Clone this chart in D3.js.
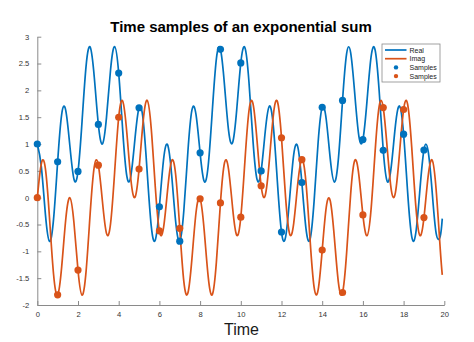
<!DOCTYPE html>
<html>
<head>
<meta charset="utf-8">
<script src="https://cdn.jsdelivr.net/npm/d3@7"></script>
<style>
  html, body { margin: 0; padding: 0; background: #fff; }
  svg { display: block; }
  text { font-family: "Liberation Sans", Arial, Helvetica, sans-serif; }
</style>
</head>
<body>
<div id="chart"></div>
<script>
// ---- data ----
const time = [0,0.2,0.4,0.6,0.8,1,1.2,1.4,1.6,1.8,2,2.2,2.4,2.6,2.8,3,3.2,3.4,3.6,3.8,
  4,4.2,4.4,4.6,4.8,5,5.2,5.4,5.6,5.8,6,6.2,6.4,6.6,6.8,7,7.2,7.4,7.6,7.8,
  8,8.2,8.4,8.6,8.8,9,9.2,9.4,9.6,9.8,10,10.2,10.4,10.6,10.8,11,11.2,11.4,11.6,11.8,
  12,12.2,12.4,12.6,12.8,13,13.2,13.4,13.6,13.8,14,14.2,14.4,14.6,14.8,15,15.2,15.4,15.6,15.8,
  16,16.2,16.4,16.6,16.8,17,17.2,17.4,17.6,17.8,18,18.2,18.4,18.6,18.8,19,19.2,19.4,19.6,19.8,19.9];

const realPart = [1.000,0.571,-0.315,-0.814,-0.396,0.669,1.559,1.623,0.967,0.348,
  0.490,1.427,2.466,2.804,2.244,1.365,1.003,1.497,2.384,2.816,
  2.322,1.236,0.400,0.412,1.100,1.676,1.456,0.477,-0.530,-0.788,
  -0.170,0.696,0.987,0.432,-0.449,-0.811,-0.243,0.856,1.635,1.547,
  0.836,0.306,0.604,1.620,2.588,2.765,2.094,1.249,1.030,1.642,
  2.511,2.798,2.160,1.054,0.336,0.498,1.229,1.705,1.330,0.284,
  -0.640,-0.736,-0.016,0.803,0.947,0.282,-0.567,-0.779,-0.073,1.033,
  1.685,1.452,0.709,0.291,0.741,1.812,2.686,2.700,1.938,1.152,
  1.082,1.795,2.619,2.753,1.983,0.883,0.300,0.601,1.351,1.707,
  1.184,0.094,-0.725,-0.658,0.140,0.889,0.882,0.127,-0.666,-0.719,-0.390];

const imagPart = [0.000,0.638,0.535,-0.379,-1.432,-1.810,-1.280,-0.397,-0.001,-0.463,
  -1.350,-1.816,-1.360,-0.283,0.580,0.606,-0.067,-0.665,-0.484,0.475,
  1.499,1.797,1.207,0.334,0.008,0.533,1.417,1.814,1.283,0.190,
  -0.619,-0.568,0.133,0.686,0.427,-0.572,-1.560,-1.778,-1.132,-0.276,
  -0.020,-0.605,-1.481,-1.805,-1.202,-0.098,0.650,0.525,-0.198,-0.700,
  -0.364,0.668,1.615,1.751,1.055,0.222,0.041,0.680,1.540,1.790,
  1.117,0.010,-0.675,-0.478,0.261,0.708,0.295,-0.764,-1.664,-1.719,
  -0.977,-0.174,-0.067,-0.756,-1.594,-1.767,-1.029,0.076,0.694,0.426,
  -0.322,-0.709,-0.222,0.859,1.706,1.680,0.899,0.131,0.099,0.834,
  1.643,1.737,0.937,-0.157,-0.705,-0.371,0.380,0.703,0.144,-0.953,-1.438];

const sampleTime = [0,1,2,3,4,5,6,7,8,9,10,11,12,13,14,15,16,17,18,19];
const sampleReal = [1.000,0.669,0.490,1.365,2.322,1.676,-0.170,-0.811,0.836,2.765,
  2.511,0.498,-0.640,0.282,1.685,1.812,1.082,0.883,1.184,0.889];
const sampleImag = [0.000,-1.810,-1.350,0.606,1.499,0.533,-0.619,-0.572,-0.020,-0.098,
  -0.364,0.222,1.117,0.708,-0.977,-1.767,-0.322,1.680,1.643,-0.371];

const xTicks = [0,2,4,6,8,10,12,14,16,18,20];
const yTicks = [-2,-1.5,-1,-0.5,0,0.5,1,1.5,2,2.5,3];
const yTickLabels = ["-2","-1.5","-1","-0.5","0","0.5","1","1.5","2","2.5","3"];
const legendLabels = ["Real","Imag","Samples","Samples"];
const titleText = "Time samples of an exponential sum";
const xLabelText = "Time";

// ---- drawing ----
const W = 474, H = 342;
const blue = "#0072BD", orange = "#D95319";
const axisColor = "#8a8a8a", labelColor = "#333333";

const svg = d3.select("#chart").append("svg").attr("width", W).attr("height", H);

const x = d3.scaleLinear().domain([0, 20]).range([37.3, 444.3]);
const y = d3.scaleLinear().domain([-2, 3]).range([305, 36.7]);

// axes (MATLAB style: box off, ticks inward)
const xAxis = d3.axisBottom(x).tickValues(xTicks).tickSizeInner(-4).tickSizeOuter(0)
  .tickPadding(7).tickFormat(d3.format("d"));
const yAxis = d3.axisLeft(y).tickValues(yTicks).tickSizeInner(-4).tickSizeOuter(0)
  .tickPadding(8).tickFormat((d, i) => yTickLabels[i]);

const gx = svg.append("g").attr("transform", `translate(0,${y(-2)})`).call(xAxis);
const gy = svg.append("g").attr("transform", `translate(${x(0)},0)`).call(yAxis);
[gx, gy].forEach(g => {
  g.select(".domain").attr("stroke", axisColor).attr("stroke-width", 1);
  g.selectAll(".tick line").attr("stroke", axisColor).attr("stroke-width", 1);
  g.selectAll(".tick text").attr("fill", labelColor).attr("font-size", 7.6)
    .attr("font-family", "'Liberation Sans', Arial, Helvetica, sans-serif");
});

const line = d3.line().curve(d3.curveNatural);

svg.append("path")
  .attr("d", line(time.map((t, i) => [x(t), y(realPart[i])])))
  .attr("fill", "none").attr("stroke", blue).attr("stroke-width", 1.7);
svg.append("path")
  .attr("d", line(time.map((t, i) => [x(t), y(imagPart[i])])))
  .attr("fill", "none").attr("stroke", orange).attr("stroke-width", 1.7);

svg.append("g").selectAll("circle").data(sampleTime).join("circle")
  .attr("cx", d => x(d)).attr("cy", (d, i) => y(sampleReal[i])).attr("r", 3.6)
  .attr("fill", blue);
svg.append("g").selectAll("circle").data(sampleTime).join("circle")
  .attr("cx", d => x(d)).attr("cy", (d, i) => y(sampleImag[i])).attr("r", 3.6)
  .attr("fill", orange);

// title and x label
svg.append("text").attr("x", 241).attr("y", 31.5).attr("text-anchor", "middle")
  .attr("font-size", 15).attr("font-weight", "bold").attr("fill", "#000").text(titleText);
svg.append("text").attr("x", 241.5).attr("y", 334.5).attr("text-anchor", "middle")
  .attr("font-size", 16).attr("fill", "#1a1a1a").text(xLabelText);

// legend
const lg = svg.append("g").attr("transform", "translate(382,44)");
lg.append("rect").attr("x", 0).attr("y", 0).attr("width", 58).attr("height", 38)
  .attr("fill", "#fff").attr("stroke", "#8a8a8a").attr("stroke-width", 0.8);
const legendColors = [blue, orange, blue, orange];
legendLabels.forEach((lab, i) => {
  const cy = 6 + i * 8.7;
  if (i < 2) {
    lg.append("line").attr("x1", 3).attr("x2", 24.5).attr("y1", cy).attr("y2", cy)
      .attr("stroke", legendColors[i]).attr("stroke-width", 1.7);
  } else {
    lg.append("circle").attr("cx", 14).attr("cy", cy).attr("r", 2.2).attr("fill", legendColors[i]);
  }
  lg.append("text").attr("x", 27.5).attr("y", cy + 2.5).attr("font-size", 7)
    .attr("fill", "#222").text(lab);
});
</script>
</body>
</html>
